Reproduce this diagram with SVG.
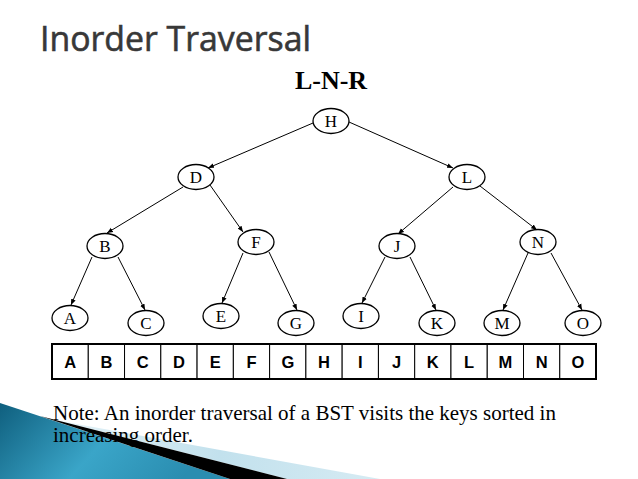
<svg xmlns="http://www.w3.org/2000/svg" width="638" height="479" viewBox="0 0 638 479">
<defs>
<style>
.n ellipse{fill:#fff;stroke:#000;stroke-width:1.3}
.n text{font-family:"Liberation Serif","Times New Roman",serif;font-size:17px;text-anchor:middle;fill:#000}
.e line{stroke:#000;stroke-width:1;marker-end:url(#ah)}
.cell{fill:#fff;stroke:#000;stroke-width:1}
.ct{font-family:"Liberation Sans",Arial,sans-serif;font-weight:bold;font-size:16.5px;text-anchor:middle;fill:#000}
</style>
<marker id="ah" viewBox="0 0 10 10" refX="10" refY="5" markerWidth="6" markerHeight="6" orient="auto" markerUnits="userSpaceOnUse">
<path d="M0,1 L10,5 L0,9 Z" fill="#000"/>
</marker>
<linearGradient id="dark" x1="0" y1="0" x2="1" y2="0.3">
<stop offset="0" stop-color="#0f5f7e"/>
<stop offset="0.55" stop-color="#3aa5c8"/>
<stop offset="1" stop-color="#2a8db0"/>
</linearGradient>
<linearGradient id="light" x1="0" y1="0" x2="1" y2="0">
<stop offset="0" stop-color="#e4f2f7"/>
<stop offset="0.5" stop-color="#c2e1ed"/>
<stop offset="1" stop-color="#d6ebf3"/>
</linearGradient>
</defs>
<rect width="638" height="479" fill="#fff"/>

<g id="decoration">
<polygon points="60,421 380,479 287,479" fill="url(#light)"/>
<polygon points="0,403 230,479 0,479" fill="url(#dark)"/>
<polygon points="40,416 287,479 230,479" fill="#000"/>
</g>

<text x="40" y="51" font-family="Open Sans, DejaVu Sans, sans-serif" font-size="34" fill="#383838" stroke="#383838" stroke-width="0.6" textLength="271" lengthAdjust="spacingAndGlyphs">Inorder Traversal</text>
<text x="331" y="89" font-family="Liberation Serif, Times New Roman, serif" font-weight="bold" font-size="26" text-anchor="middle" fill="#000">L-N-R</text>

<g id="connectors" class="e">
<line x1="313" y1="123" x2="208" y2="168"/>
<line x1="349" y1="122" x2="453" y2="168"/>
<line x1="183" y1="187" x2="107" y2="233"/>
<line x1="210" y1="185" x2="243" y2="232"/>
<line x1="453" y1="187" x2="398" y2="234"/>
<line x1="480" y1="186" x2="537" y2="230"/>
<line x1="92" y1="257" x2="71" y2="305"/>
<line x1="118" y1="257" x2="145" y2="310"/>
<line x1="243" y1="253" x2="222" y2="303"/>
<line x1="269" y1="252" x2="297" y2="310"/>
<line x1="385" y1="257" x2="362" y2="303"/>
<line x1="410" y1="257" x2="436" y2="310"/>
<line x1="528" y1="253" x2="503" y2="310"/>
<line x1="551" y1="253" x2="582" y2="310"/>
</g>

<g id="node-H" class="n"><ellipse cx="331" cy="121" rx="18" ry="12.5"/><text x="331" y="127">H</text></g>
<g id="node-D" class="n"><ellipse cx="196" cy="177" rx="18" ry="12.5"/><text x="196" y="183">D</text></g>
<g id="node-L" class="n"><ellipse cx="467" cy="177" rx="18" ry="12.5"/><text x="467" y="183">L</text></g>
<g id="node-B" class="n"><ellipse cx="105" cy="246" rx="18" ry="12.5"/><text x="105" y="252">B</text></g>
<g id="node-F" class="n"><ellipse cx="256" cy="242" rx="18" ry="12.5"/><text x="256" y="248">F</text></g>
<g id="node-J" class="n"><ellipse cx="397" cy="246" rx="18" ry="12.5"/><text x="397" y="252">J</text></g>
<g id="node-N" class="n"><ellipse cx="538" cy="242" rx="18" ry="12.5"/><text x="538" y="248">N</text></g>
<g id="node-A" class="n"><ellipse cx="70" cy="318" rx="18" ry="12.5"/><text x="70" y="324">A</text></g>
<g id="node-C" class="n"><ellipse cx="146" cy="323" rx="18" ry="12.5"/><text x="146" y="329">C</text></g>
<g id="node-E" class="n"><ellipse cx="221" cy="316" rx="18" ry="12.5"/><text x="221" y="322">E</text></g>
<g id="node-G" class="n"><ellipse cx="296" cy="323" rx="18" ry="12.5"/><text x="296" y="329">G</text></g>
<g id="node-I" class="n"><ellipse cx="361" cy="316" rx="18" ry="12.5"/><text x="361" y="322">I</text></g>
<g id="node-K" class="n"><ellipse cx="437" cy="323" rx="18" ry="12.5"/><text x="437" y="329">K</text></g>
<g id="node-M" class="n"><ellipse cx="502" cy="323" rx="18" ry="12.5"/><text x="502" y="329">M</text></g>
<g id="node-O" class="n"><ellipse cx="583" cy="323" rx="18" ry="12.5"/><text x="583" y="329">O</text></g>

<g id="array">
<rect class="cell" x="52" y="344" width="36.27" height="35"/>
<rect class="cell" x="88.27" y="344" width="36.27" height="35"/>
<rect class="cell" x="124.54" y="344" width="36.27" height="35"/>
<rect class="cell" x="160.81" y="344" width="36.27" height="35"/>
<rect class="cell" x="197.08" y="344" width="36.27" height="35"/>
<rect class="cell" x="233.35" y="344" width="36.27" height="35"/>
<rect class="cell" x="269.62" y="344" width="36.27" height="35"/>
<rect class="cell" x="305.89" y="344" width="36.27" height="35"/>
<rect class="cell" x="342.16" y="344" width="36.27" height="35"/>
<rect class="cell" x="378.43" y="344" width="36.27" height="35"/>
<rect class="cell" x="414.7" y="344" width="36.27" height="35"/>
<rect class="cell" x="450.97" y="344" width="36.27" height="35"/>
<rect class="cell" x="487.24" y="344" width="36.27" height="35"/>
<rect class="cell" x="523.51" y="344" width="36.27" height="35"/>
<rect class="cell" x="559.78" y="344" width="36.27" height="35"/>
<rect x="52" y="344" width="544" height="35" fill="none" stroke="#000" stroke-width="2"/>
<text class="ct" x="70.1" y="368">A</text>
<text class="ct" x="106.4" y="368">B</text>
<text class="ct" x="142.7" y="368">C</text>
<text class="ct" x="178.9" y="368">D</text>
<text class="ct" x="215.2" y="368">E</text>
<text class="ct" x="251.5" y="368">F</text>
<text class="ct" x="287.8" y="368">G</text>
<text class="ct" x="324.0" y="368">H</text>
<text class="ct" x="360.3" y="368">I</text>
<text class="ct" x="396.6" y="368">J</text>
<text class="ct" x="432.8" y="368">K</text>
<text class="ct" x="469.1" y="368">L</text>
<text class="ct" x="505.4" y="368">M</text>
<text class="ct" x="541.6" y="368">N</text>
<text class="ct" x="577.9" y="368">O</text>
</g>

<g id="note" font-family="Liberation Serif, Times New Roman, serif" font-size="21" fill="#000">
<text x="53" y="420">Note: An inorder traversal of a BST visits the keys sorted in</text>
<text x="53" y="442">increasing order.</text>
</g>
</svg>
